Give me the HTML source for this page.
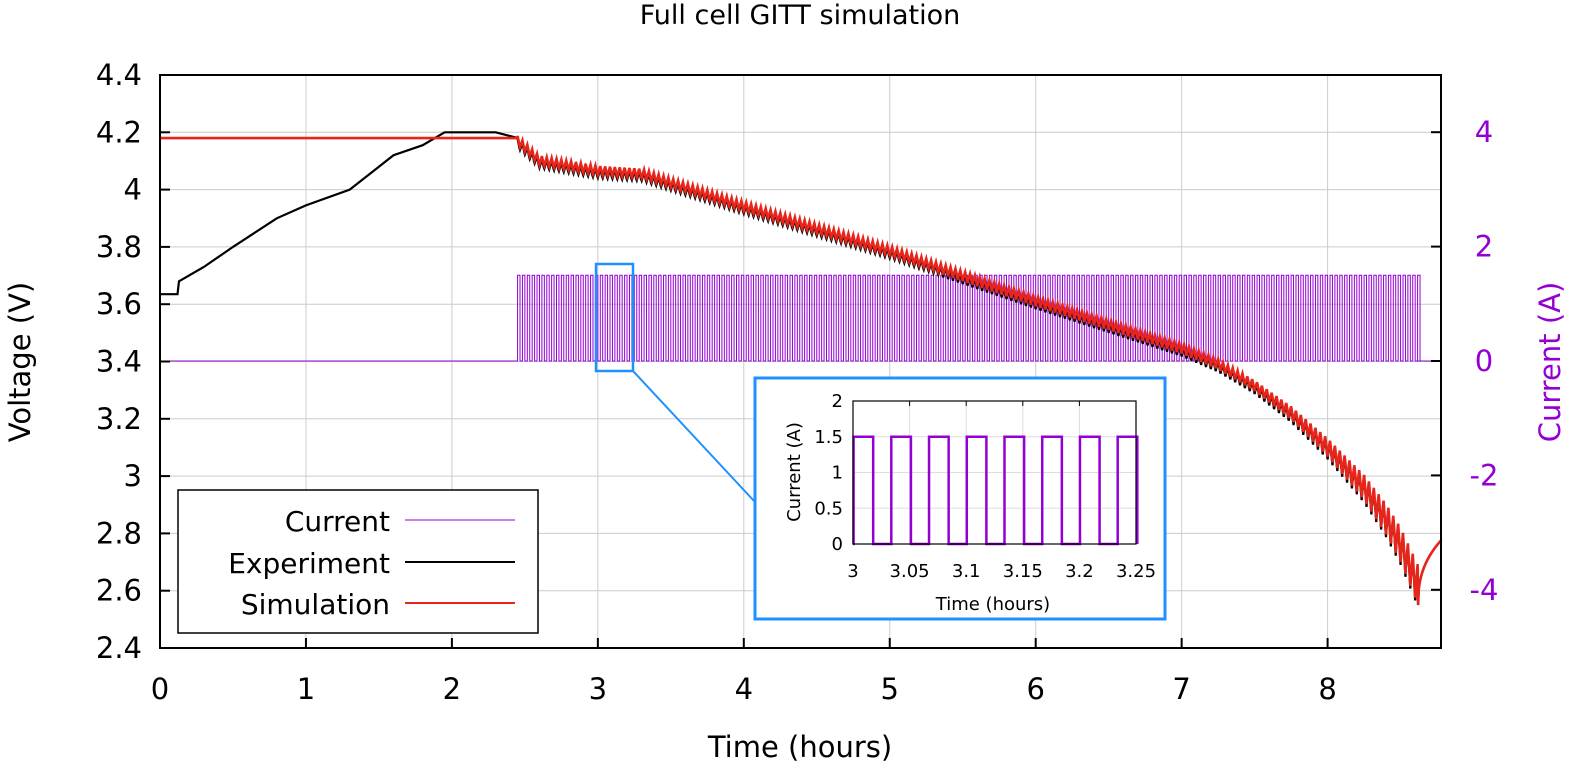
<!DOCTYPE html>
<html><head><meta charset="utf-8"><style>
body{margin:0;background:#fff;}
svg text{font-family:"DejaVu Sans","Liberation Sans",sans-serif;}
</style></head><body>
<svg id="s" width="1570" height="771" xmlns="http://www.w3.org/2000/svg">
<rect width="1570" height="771" fill="#fff"/>
<text x="800" y="24" font-size="27" text-anchor="middle">Full cell GITT simulation</text>
<g id="grid" stroke="#ccc" stroke-width="1"></g>
<g id="cur"></g>
<path id="exp" fill="none" stroke="#000" stroke-width="2.2"/>
<path id="sim" fill="none" stroke="#e8251b" stroke-width="2.6"/>
<rect x="160" y="75" width="1281" height="573" fill="none" stroke="#000" stroke-width="2"/>
<g id="ticks" font-size="29"></g>
<text x="800" y="757" font-size="29" text-anchor="middle">Time (hours)</text>
<text transform="translate(30,362) rotate(-90)" font-size="29" text-anchor="middle">Voltage (V)</text>
<text transform="translate(1560,362) rotate(-90)" font-size="29" text-anchor="middle" fill="#9400d3">Current (A)</text>
<rect x="178" y="490" width="360" height="143" fill="#fff" stroke="#000" stroke-width="1.5"/>
<g font-size="28" text-anchor="end">
<text x="390" y="531">Current</text><text x="390" y="573">Experiment</text><text x="390" y="614">Simulation</text></g>
<line x1="405" y1="520" x2="515" y2="520" stroke="#9400d3" stroke-width="1"/>
<line x1="405" y1="562" x2="515" y2="562" stroke="#000" stroke-width="2"/>
<line x1="405" y1="603" x2="515" y2="603" stroke="#e8251b" stroke-width="2"/>
<rect x="596" y="264" width="37" height="107" fill="none" stroke="#1e90ff" stroke-width="2.5"/>
<line x1="633" y1="371" x2="755" y2="502" stroke="#1e90ff" stroke-width="2"/>
<rect x="755" y="378" width="410" height="241" fill="#fff" stroke="#1e90ff" stroke-width="3"/>
<g id="inset" font-size="18"></g>
</svg>
<script>
const X=t=>160+t*145.95, Y=v=>75+(4.4-v)*286.5, YC=a=>361-a*57.2;
let g='';
for(let t=1;t<=8;t++)g+=`<line x1="${X(t)}" y1="75" x2="${X(t)}" y2="648"/>`;
for(let v=2.6;v<4.35;v+=0.2)g+=`<line x1="160" y1="${Y(v)}" x2="1441" y2="${Y(v)}"/>`;
document.getElementById('grid').innerHTML=g;
let tk='';
for(let t=0;t<=8;t++)tk+=`<text x="${X(t)}" y="699" text-anchor="middle">${t}</text><line x1="${X(t)}" y1="648" x2="${X(t)}" y2="638" stroke="#000" stroke-width="2"/>`;
for(let i=0;i<=10;i++){let v=2.4+i*0.2;tk+=`<text x="142" y="${Y(v)+10}" text-anchor="end">${+v.toFixed(1)}</text><line x1="160" y1="${Y(v)}" x2="170" y2="${Y(v)}" stroke="#000" stroke-width="2"/>`;}
for(let a=-4;a<=4;a+=2)tk+=`<text x="1484" y="${YC(a)+10}" text-anchor="middle" fill="#9400d3">${a}</text><line x1="1431" y1="${YC(a)}" x2="1441" y2="${YC(a)}" stroke="#000" stroke-width="2"/>`;
document.getElementById('ticks').innerHTML=tk;
const P=1/30,t0=2.45,t1=8.62;
let c=`M160 ${YC(0)} L${X(t0)} ${YC(0)}`;
for(let t=t0;t<t1;t+=P){c+=` L${X(t).toFixed(2)} ${YC(1.5)} L${X(t+P/2).toFixed(2)} ${YC(1.5)} L${X(t+P/2).toFixed(2)} ${YC(0)} L${X(Math.min(t+P,t1)).toFixed(2)} ${YC(0)}`;}
c+=` L1441 ${YC(0)}`;
document.getElementById('cur').innerHTML=`<path d="${c}" fill="none" stroke="#9400d3" stroke-width="1"/>`;
const pts=[[2.45,4.17],[2.6,4.1],[3,4.065],[3.3,4.055],[4,3.94],[5,3.785],[6,3.61],[7,3.445],[7.25,3.39],[7.5,3.315],[7.75,3.22],[8,3.1],[8.25,2.96],[8.4,2.85],[8.5,2.76],[8.62,2.62]];
function base(t){for(let i=0;i<pts.length-1;i++){if(t<=pts[i+1][0]){let [a,b]=pts[i],[c2,d]=pts[i+1];return b+(d-b)*(t-a)/(c2-a);}}return 2.62;}
function wave(off){let d='';for(let t=t0;t<t1;t+=P/8){let ph=((t-t0)%P)/P;let amp=0.035+0.1*Math.max(0,(t-7.3)/1.3)**2;let w=ph<0.5?-ph*2*amp:-(1-(ph-0.5)*2)*amp*0.9;d+=` L${X(t).toFixed(2)} ${Y(base(t)+w+off+amp/2).toFixed(2)}`;}
for(let t=8.62;t<=8.785;t+=0.005){let v=2.55+0.23*Math.pow((t-8.62)/0.165,0.4);d+=` L${X(t).toFixed(2)} ${Y(v).toFixed(2)}`;}return d;}
document.getElementById('sim').setAttribute('d',`M160 ${Y(4.18)} L${X(2.45)} ${Y(4.18)}`+wave(0));
let e=[[0,3.635],[0.12,3.635],[0.13,3.68],[0.3,3.73],[0.5,3.8],[0.8,3.9],[1,3.945],[1.3,4.0],[1.5,4.08],[1.6,4.12],[1.8,4.155],[1.95,4.2],[2.3,4.2],[2.45,4.18]];
document.getElementById('exp').setAttribute('d','M'+e.map(p=>X(p[0]).toFixed(1)+' '+Y(p[1]).toFixed(1)).join(' L')+wave(-0.01));
const IX=t=>853+(t-3)/0.25*283, IY=a=>544-a*71.5;
let s='';
for(let t=3.05;t<3.24;t+=0.05)s+=`<line x1="${IX(t)}" y1="401" x2="${IX(t)}" y2="544" stroke="#ddd"/>`;
for(let a=0.5;a<2;a+=0.5)s+=`<line x1="853" y1="${IY(a)}" x2="1136" y2="${IY(a)}" stroke="#ddd"/>`;
let ip=`M853 ${IY(0)}`;
for(let k=0;k<8;k++){let a=3+0.0005+k*P;ip+=` L${IX(a)} ${IY(0)} L${IX(a)} ${IY(1.5)} L${IX(a+P*0.52)} ${IY(1.5)} L${IX(a+P*0.52)} ${IY(0)}`;}
s+=`<path d="${ip}" fill="none" stroke="#9400d3" stroke-width="2.5"/>`;
s+=`<rect x="853" y="401" width="283" height="143" fill="none" stroke="#000" stroke-width="1.2"/>`;
["3","3.05","3.1","3.15","3.2","3.25"].forEach((l,i)=>{s+=`<text x="${IX(3+i*0.05)}" y="577" text-anchor="middle">${l}</text><line x1="${IX(3+i*0.05)}" y1="401" x2="${IX(3+i*0.05)}" y2="406" stroke="#000"/>`;});
["0","0.5","1","1.5","2"].forEach((l,i)=>s+=`<text x="843" y="${IY(i*0.5)+6}" text-anchor="end">${l}</text>`);
s+=`<text x="993" y="610" text-anchor="middle">Time (hours)</text><text transform="translate(800,472) rotate(-90)" text-anchor="middle">Current (A)</text>`;
document.getElementById('inset').innerHTML=s;
</script>
</body></html>
